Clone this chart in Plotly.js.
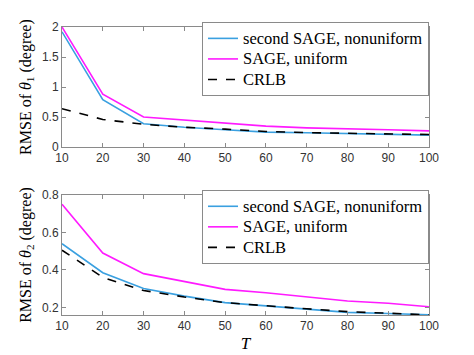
<!DOCTYPE html>
<html>
<head>
<meta charset="utf-8">
<script src="https://cdn.plot.ly/plotly-3.0.1.min.js"></script>
<style>html,body{margin:0;padding:0;background:#fff;}#chart{width:474px;height:355px;}</style>
</head>
<body>
<div id="chart"></div>
<script>
const T = [10, 20, 30, 40, 50, 60, 70, 80, 90, 100];
const seriesNames = ['second SAGE, nonuniform', 'SAGE, uniform', 'CRLB'];
// theta_1 RMSE (degree)
const theta1Second = [1.92, 0.79, 0.39, 0.33, 0.29, 0.25, 0.24, 0.23, 0.22, 0.20];
const theta1Sage   = [2.00, 0.88, 0.50, 0.45, 0.39, 0.35, 0.32, 0.31, 0.29, 0.27];
const theta1Crlb   = [0.64, 0.46, 0.38, 0.33, 0.30, 0.26, 0.24, 0.23, 0.22, 0.21];
// theta_2 RMSE (degree)
const theta2Second = [0.54, 0.385, 0.30, 0.26, 0.225, 0.207, 0.19, 0.173, 0.167, 0.16];
const theta2Sage   = [0.75, 0.49, 0.38, 0.34, 0.296, 0.278, 0.257, 0.234, 0.222, 0.203];
const theta2Crlb   = [0.505, 0.36, 0.29, 0.255, 0.225, 0.207, 0.192, 0.177, 0.168, 0.16];
const xTicks = [10, 20, 30, 40, 50, 60, 70, 80, 90, 100];
const y1Ticks = [0, 0.5, 1, 1.5, 2];
const y2Ticks = [0.2, 0.4, 0.6, 0.8];

const colors = ['#3aa0e0', '#ff1aff', '#000000'];
const dashes = ['solid', 'solid', 'dash'];
const serif = 'Liberation Serif';
const sans = 'Liberation Sans';

function mk(x, y, i, xa, ya, leg) {
  return {x: x, y: y,
    name: '<span style="font-family:\'Liberation Serif\';font-size:16.5px">' + seriesNames[i] + '</span>',
    type: 'scatter', mode: 'lines',
    xaxis: xa, yaxis: ya, legend: leg,
    line: {color: colors[i], width: 1.6, dash: dashes[i]}};
}
const data = [
  mk(T, theta1Second, 0, 'x', 'y', 'legend'),
  mk(T, theta1Sage, 1, 'x', 'y', 'legend'),
  mk(T, theta1Crlb, 2, 'x', 'y', 'legend'),
  mk(T, theta2Second, 0, 'x2', 'y2', 'legend2'),
  mk(T, theta2Sage, 1, 'x2', 'y2', 'legend2'),
  mk(T, theta2Crlb, 2, 'x2', 'y2', 'legend2')
];
function ax(extra) {
  return Object.assign({showline: true, linecolor: '#8a8a8a', linewidth: 1, mirror: 'ticks',
    ticks: 'inside', ticklen: 4, tickcolor: '#8a8a8a', showgrid: false, zeroline: false,
    tickfont: {family: sans, size: 12, color: '#333'}}, extra);
}
function leg(extra) {
  return Object.assign({xref: 'paper', yref: 'paper', xanchor: 'right', yanchor: 'top',
    bgcolor: '#fff', bordercolor: '#8a8a8a', borderwidth: 1,
    font: {family: serif, size: 13.5, color: '#000'}, tracegroupgap: 0, itemwidth: 30}, extra);
}
const layout = {
  width: 474, height: 355,
  margin: {l: 62, r: 45, t: 27, b: 40},
  font: {family: serif, size: 16, color: '#000'},
  paper_bgcolor: '#fff', plot_bgcolor: '#fff',
  showlegend: true,
  xaxis: ax({domain: [0, 1], anchor: 'y', range: [10, 100], tickvals: xTicks}),
  yaxis: ax({domain: [0.583, 1], anchor: 'x', range: [0, 2], tickvals: y1Ticks,
    title: {text: 'RMSE of <i>θ</i><sub>1</sub> (degree)', font: {family: serif, size: 16, color: '#000'}, standoff: 6}}),
  xaxis2: ax({domain: [0, 1], anchor: 'y2', range: [10, 100], tickvals: xTicks,
    title: {text: '<i>T</i>', font: {family: serif, size: 17, color: '#000'}, standoff: 4}}),
  yaxis2: ax({domain: [0, 0.4167], anchor: 'x2', range: [0.159, 0.8], tickvals: y2Ticks,
    title: {text: 'RMSE of <i>θ</i><sub>2</sub> (degree)', font: {family: serif, size: 16, color: '#000'}, standoff: 6}}),
  legend: leg({x: 1, y: 1.017}),
  legend2: leg({x: 1, y: 0.434})
};
Plotly.newPlot('chart', data, layout, {displayModeBar: false, staticPlot: true});
</script>
</body>
</html>
